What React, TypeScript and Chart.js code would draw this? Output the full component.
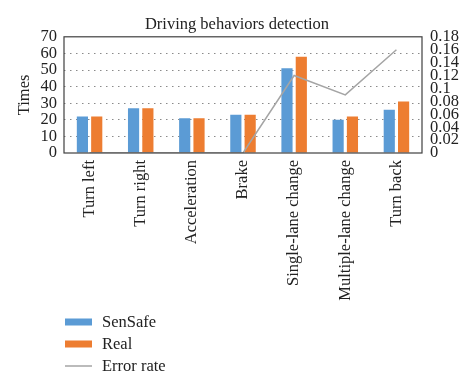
import React, { useEffect, useRef } from "react";
import { Chart, registerables } from "chart.js";

Chart.register(...registerables);

const categories = [
  "Turn left",
  "Turn right",
  "Acceleration",
  "Brake",
  "Single-lane change",
  "Multiple-lane change",
  "Turn back",
];
const senSafe = [22, 27, 21, 23, 51, 20, 26];
const real = [22, 27, 21, 23, 58, 22, 31];
const errorRate = [0, 0, 0, 0, 0.12, 0.09, 0.16];

const FONT = "'Liberation Serif', 'Times New Roman', serif";
const TEXT = "#222";

const legendPlugin = {
  id: "stackLegend",
  afterDraw(chart: any) {
    const { ctx, chartArea } = chart;
    const left = chartArea.left + 1;
    const firstY = chartArea.bottom + 169;
    const gap = 22;
    ctx.save();
    ctx.font = `16.5px ${FONT}`;
    ctx.textBaseline = "middle";
    ctx.textAlign = "left";
    chart.data.datasets.forEach((ds: any, i: number) => {
      const y = firstY + i * gap;
      if (ds.type === "line") {
        ctx.strokeStyle = ds.borderColor;
        ctx.lineWidth = 1.5;
        ctx.beginPath();
        ctx.moveTo(left, y);
        ctx.lineTo(left + 27, y);
        ctx.stroke();
      } else {
        ctx.fillStyle = ds.backgroundColor;
        ctx.fillRect(left, y - 3.5, 27, 7);
      }
      ctx.fillStyle = TEXT;
      ctx.fillText(ds.label, left + 37, y + 1);
    });
    ctx.restore();
  },
};

const boxPlugin = {
  id: "plotBox",
  afterDatasetsDraw(chart: any) {
    const { ctx, chartArea } = chart;
    ctx.save();
    ctx.strokeStyle = "#404040";
    ctx.lineWidth = 1.2;
    ctx.strokeRect(
      chartArea.left,
      chartArea.top,
      chartArea.right - chartArea.left,
      chartArea.bottom - chartArea.top
    );
    ctx.restore();
  },
};

export default function App() {
  const ref = useRef<HTMLCanvasElement | null>(null);

  useEffect(() => {
    if (!ref.current) return;
    const chart = new Chart(ref.current, {
      type: "bar",
      data: {
        labels: categories,
        datasets: [
          {
            type: "bar",
            label: "SenSafe",
            data: senSafe,
            backgroundColor: "#5B9BD5",
            yAxisID: "y",
            order: 1,
            categoryPercentage: 0.56,
            barPercentage: 0.78,
          },
          {
            type: "bar",
            label: "Real",
            data: real,
            backgroundColor: "#ED7D31",
            yAxisID: "y",
            order: 1,
            categoryPercentage: 0.56,
            barPercentage: 0.78,
          },
          {
            type: "line",
            label: "Error rate",
            data: errorRate,
            borderColor: "#A5A5A5",
            backgroundColor: "#A5A5A5",
            borderWidth: 1.5,
            pointRadius: 0,
            tension: 0,
            yAxisID: "y1",
            order: 0,
          },
        ] as any,
      },
      options: {
        responsive: false,
        animation: false,
        layout: { padding: 0 },
        plugins: {
          legend: { display: false },
          tooltip: { enabled: false },
          title: {
            display: true,
            text: "Driving behaviors detection",
            color: TEXT,
            font: { family: FONT, size: 16.5, weight: "normal" },
            padding: { top: 15, bottom: 2 },
          },
        },
        scales: {
          x: {
            grid: { display: false, drawTicks: false },
            border: { display: false },
            ticks: {
              color: TEXT,
              font: { family: FONT, size: 16.5 },
              minRotation: 90,
              maxRotation: 90,
              autoSkip: false,
              padding: 7,
            },
            afterFit(scale: any) {
              scale.height = 234;
            },
          },
          y: {
            position: "left",
            min: 0,
            max: 70,
            grid: {
              drawTicks: false,
              color: (c: any) =>
                c.tick && (c.tick.value === 0 || c.tick.value === 70)
                  ? "rgba(0,0,0,0)"
                  : "#8a8a8a",
              lineWidth: 1,
            },
            border: { display: false, dash: [1.5, 4.5] },
            ticks: {
              stepSize: 10,
              autoSkip: false,
              color: TEXT,
              font: { family: FONT, size: 16.5 },
              padding: 7,
            },
            title: {
              display: true,
              text: "Times",
              color: TEXT,
              font: { family: FONT, size: 16.5 },
              padding: { top: 15, bottom: 0 },
            },
            afterFit(scale: any) {
              scale.width = 64;
            },
          },
          y1: {
            position: "right",
            min: 0,
            max: 0.18,
            grid: { display: false, drawTicks: false },
            border: { display: false },
            ticks: {
              stepSize: 0.02,
              autoSkip: false,
              color: TEXT,
              font: { family: FONT, size: 16.5 },
              padding: 8,
              callback: (v: any) => String(Number(Number(v).toFixed(2))),
            },
            afterFit(scale: any) {
              scale.width = 52;
            },
          },
        },
      } as any,
      plugins: [boxPlugin, legendPlugin],
    });
    return () => chart.destroy();
  }, []);

  return (
    <div
      style={{
        position: "absolute",
        left: 0,
        top: 0,
        width: 474,
        height: 387,
        background: "#fff",
      }}
    >
      <canvas ref={ref} width={474} height={387} />
    </div>
  );
}
